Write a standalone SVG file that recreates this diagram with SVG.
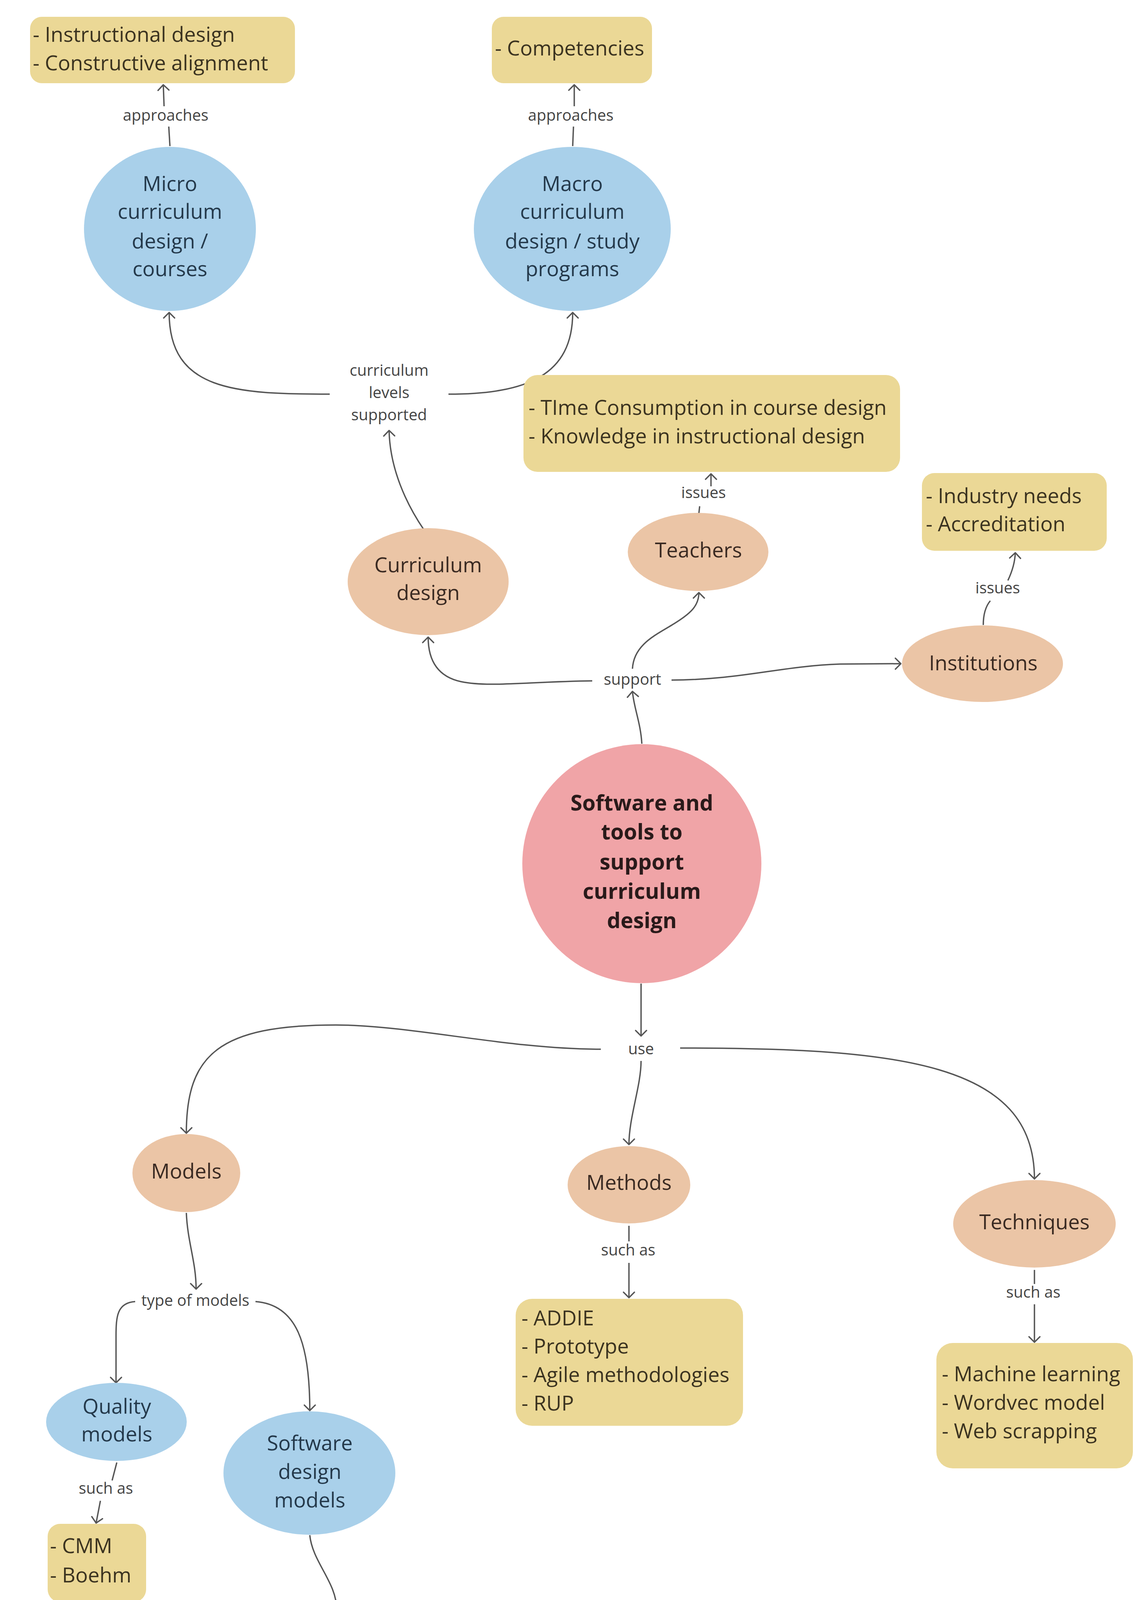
<svg xmlns="http://www.w3.org/2000/svg" width="2931" height="5242" viewBox="0 0 2931 5242">
<defs>
<marker id="arr" markerUnits="userSpaceOnUse" markerWidth="40" markerHeight="40" viewBox="-20 -20 40 40" refX="0" refY="0" orient="auto" overflow="visible">
<path d="M -14 -14 L 0 0 L -14 14" fill="none" stroke="#555" stroke-width="3.5" stroke-linecap="round" stroke-linejoin="round"/>
</marker>
<style>
.c{fill:none;stroke:#555;stroke-width:3.5;stroke-linecap="round"}
.ca{fill:none;stroke:#555;stroke-width:3.5;marker-end:url(#arr)}
.lbl{font-family:"Open Sans","Liberation Sans",sans-serif;font-size:40px;fill:#444;text-anchor:middle}
.box{fill:#EBD896}
.bt{font-family:"Open Sans","Liberation Sans",sans-serif;font-size:53px;fill:#3b3320}
.blue{fill:#A9D0EA}
.blt{font-family:"Open Sans","Liberation Sans",sans-serif;font-size:53px;fill:#24394b;text-anchor:middle}
.peach{fill:#EBC5A6}
.pt{font-family:"Open Sans","Liberation Sans",sans-serif;font-size:53px;fill:#3a2a22;text-anchor:middle}
.green{fill:#A2E095}
.gt{font-family:"Open Sans","Liberation Sans",sans-serif;font-size:53px;fill:#1f3b1f;text-anchor:middle}
.pink{fill:#F0A4A7}
.ct{font-family:"Open Sans","Liberation Sans",sans-serif;font-size:55px;font-weight:bold;fill:#2a1a1a;text-anchor:middle}
</style>
</defs>
<rect width="2931" height="5242" fill="#ffffff"/>

<g id="connectors">
<path class="c" d="M 435 374 L 432 324"/>
<path class="ca" d="M 420 272 L 418 217"/>
<text class="lbl" x="424" y="309">approaches</text>

<path class="c" d="M 1466 374 L 1468 324"/>
<path class="ca" d="M 1470 272 L 1470 217"/>
<text class="lbl" x="1461" y="309">approaches</text>

<path class="ca" d="M 1085 1356 C 1040 1290, 998 1200, 996 1102"/>
<text class="lbl" x="996" y="962">curriculum</text>
<text class="lbl" x="996" y="1019">levels</text>
<text class="lbl" x="996" y="1076">supported</text>
<path class="ca" d="M 844 1009 C 600 1009, 433 1000, 433 800"/>
<path class="ca" d="M 1148 1009 C 1350 1009, 1466 960, 1466 800"/>

<path class="ca" d="M 1643 1904 C 1640 1850, 1622 1810, 1619 1770"/>
<text class="lbl" x="1619" y="1753">support</text>
<path class="ca" d="M 1516 1743 C 1350 1745, 1250 1760, 1180 1745 C 1120 1732, 1096 1690, 1096 1631"/>
<path class="ca" d="M 1619 1712 C 1622 1650, 1680 1625, 1720 1600 C 1770 1570, 1789 1550, 1789 1517"/>
<path class="ca" d="M 1719 1741 C 1900 1740, 2000 1705, 2150 1700 L 2306 1699"/>

<path class="c" d="M 1789 1314 L 1791 1296"/>
<path class="ca" d="M 1820 1245 L 1820 1213"/>
<text class="lbl" x="1801" y="1275">issues</text>

<path class="c" d="M 2517 1600 C 2517 1570, 2525 1550, 2535 1538"/>
<path class="ca" d="M 2580 1486 C 2590 1465, 2598 1440, 2599 1415"/>
<text class="lbl" x="2554" y="1519">issues</text>

<path class="ca" d="M 1641 2518 L 1641 2652"/>
<text class="lbl" x="1641" y="2699">use</text>
<path class="ca" d="M 1538 2686 C 1300 2686, 1050 2624, 860 2624 C 560 2624, 477 2700, 477 2901"/>
<path class="ca" d="M 1641 2716 C 1641 2780, 1610 2860, 1610 2930"/>
<path class="ca" d="M 1741 2683 C 2300 2683, 2648 2720, 2648 3018"/>

<path class="c" d="M 1610 3138 L 1610 3178"/>
<path class="ca" d="M 1610 3233 L 1610 3322"/>
<text class="lbl" x="1608" y="3214">such as</text>

<path class="c" d="M 2648 3251 L 2648 3287"/>
<path class="ca" d="M 2648 3339 L 2648 3436"/>
<text class="lbl" x="2645" y="3322">such as</text>

<path class="ca" d="M 477 3105 C 480 3180, 502 3230, 502 3300"/>
<text class="lbl" x="500" y="3343">type of models</text>
<path class="ca" d="M 346 3332 C 300 3335, 297 3370, 297 3420 L 297 3540"/>
<path class="ca" d="M 654 3332 C 760 3340, 793 3440, 793 3611"/>

<path class="c" d="M 299 3744 L 287 3790"/>
<path class="ca" d="M 257 3842 L 246 3899"/>
<text class="lbl" x="271" y="3824">such as</text>

<path class="ca" d="M 793 3930 C 800 4000, 862 4050, 862 4122"/>
<text class="lbl" x="862" y="4164">type of models</text>
<path class="ca" d="M 708 4152 C 450 4155, 309 4270, 309 4378"/>
<path class="ca" d="M 862 4186 C 860 4300, 835 4380, 806 4462"/>
<path class="ca" d="M 1019 4152 C 1300 4155, 1488 4260, 1488 4435"/>

<path class="c" d="M 252 4580 L 241 4654"/>
<path class="ca" d="M 226 4708 L 222 4761"/>
<text class="lbl" x="229" y="4687">such as</text>

<path class="c" d="M 821 4625 L 825 4679"/>
<path class="ca" d="M 832 4733 L 840 4798"/>
<text class="lbl" x="827" y="4712">such as</text>

<path class="c" d="M 1488 4670 L 1488 4733"/>
<path class="ca" d="M 1488 4792 L 1488 4868"/>
<text class="lbl" x="1487" y="4771">such as</text>
</g>

<g id="box-instructional">
<rect class="box" x="77" y="43" width="678" height="170" rx="30"/>
<text class="bt" x="84" y="107">- Instructional design</text>
<text class="bt" x="84" y="180">- Constructive alignment</text>
</g>
<g id="box-competencies">
<rect class="box" x="1259" y="43" width="410" height="170" rx="30"/>
<text class="bt" x="1267" y="142">- Competencies</text>
</g>
<g id="micro">
<ellipse class="blue" cx="435" cy="586" rx="220" ry="210"/>
<text class="blt" x="435" y="489">Micro</text>
<text class="blt" x="435" y="560">curriculum</text>
<text class="blt" x="435" y="636">design /</text>
<text class="blt" x="435" y="707">courses</text>
</g>
<g id="macro">
<ellipse class="blue" cx="1465" cy="586" rx="252" ry="210"/>
<text class="blt" x="1465" y="489">Macro</text>
<text class="blt" x="1465" y="560">curriculum</text>
<text class="blt" x="1465" y="636">design / study</text>
<text class="blt" x="1465" y="707">programs</text>
</g>
<g id="box-teacher-issues">
<rect class="box" x="1340" y="960" width="964" height="248" rx="36"/>
<text class="bt" x="1353" y="1062">- TIme Consumption in course design</text>
<text class="bt" x="1353" y="1135">- Knowledge in instructional design</text>
</g>
<g id="box-institution-issues">
<rect class="box" x="2360" y="1211" width="473" height="199" rx="32"/>
<text class="bt" x="2370" y="1288">- Industry needs</text>
<text class="bt" x="2370" y="1360">- Accreditation</text>
</g>
<g id="curriculum-design">
<ellipse class="peach" cx="1096" cy="1489" rx="206" ry="137"/>
<text class="pt" x="1096" y="1465">Curriculum</text>
<text class="pt" x="1096" y="1536">design</text>
</g>
<g id="teachers">
<ellipse class="peach" cx="1787" cy="1413" rx="180" ry="100"/>
<text class="pt" x="1788" y="1427">Teachers</text>
</g>
<g id="institutions">
<ellipse class="peach" cx="2515" cy="1699" rx="206" ry="98"/>
<text class="pt" x="2517" y="1716">Institutions</text>
</g>
<g id="central">
<circle class="pink" cx="1643" cy="2211" r="306"/>
<text class="ct" x="1643" y="2075">Software and</text>
<text class="ct" x="1643" y="2149">tools to</text>
<text class="ct" x="1643" y="2226">support</text>
<text class="ct" x="1643" y="2301">curriculum</text>
<text class="ct" x="1643" y="2376">design</text>
</g>
<g id="models">
<ellipse class="peach" cx="477" cy="3003" rx="138" ry="100"/>
<text class="pt" x="477" y="3017">Models</text>
</g>
<g id="methods">
<ellipse class="peach" cx="1610" cy="3033" rx="157" ry="99"/>
<text class="pt" x="1610" y="3046">Methods</text>
</g>
<g id="techniques">
<ellipse class="peach" cx="2648" cy="3133" rx="208" ry="112"/>
<text class="pt" x="2648" y="3147">Techniques</text>
</g>
<g id="box-methods">
<rect class="box" x="1320" y="3325" width="582" height="325" rx="42"/>
<text class="bt" x="1335" y="3393">- ADDIE</text>
<text class="bt" x="1335" y="3465">- Prototype</text>
<text class="bt" x="1335" y="3538">- Agile methodologies</text>
<text class="bt" x="1335" y="3611">- RUP</text>
</g>
<g id="box-techniques">
<rect class="box" x="2397" y="3438" width="503" height="321" rx="42"/>
<text class="bt" x="2411" y="3536">- Machine learning</text>
<text class="bt" x="2411" y="3609">- Wordvec model</text>
<text class="bt" x="2411" y="3682">- Web scrapping</text>
</g>
<g id="quality-models">
<ellipse class="blue" cx="298" cy="3640" rx="180" ry="100"/>
<text class="blt" x="299" y="3619">Quality</text>
<text class="blt" x="299" y="3690">models</text>
</g>
<g id="software-design-models">
<ellipse class="blue" cx="792" cy="3771" rx="220" ry="158"/>
<text class="blt" x="793" y="3713">Software</text>
<text class="blt" x="793" y="3786">design</text>
<text class="blt" x="793" y="3859">models</text>
</g>
<g id="box-quality">
<rect class="box" x="122" y="3901" width="252" height="200" rx="32"/>
<text class="bt" x="128" y="3976">- CMM</text>
<text class="bt" x="128" y="4051">- Boehm</text>
</g>
<g id="software">
<ellipse class="green" cx="252" cy="4477" rx="208" ry="99"/>
<text class="gt" x="240" y="4489">Software</text>
</g>
<g id="philosophy">
<ellipse class="green" cx="819" cy="4533" rx="200" ry="88"/>
<text class="gt" x="820" y="4548">Philosophy</text>
</g>
<g id="education">
<ellipse class="green" cx="1488" cy="4557" rx="206" ry="110"/>
<text class="gt" x="1490" y="4573">Education</text>
</g>
<g id="box-software">
<rect class="box" x="93" y="4763" width="256" height="167" rx="32"/>
<text class="bt" x="100" y="4821">- UML</text>
<text class="bt" x="100" y="4896">- ERD</text>
</g>
<g id="box-philosophy">
<rect class="box" x="682" y="4800" width="317" height="169" rx="32"/>
<text class="bt" x="690" y="4897">- Ontologies</text>
</g>
<g id="box-education">
<rect class="box" x="1329" y="4871" width="318" height="322" rx="42"/>
<text class="bt" x="1346" y="4972">- IMS-LD</text>
<text class="bt" x="1346" y="5046">- IMS-QTI</text>
<text class="bt" x="1346" y="5120">- IMS-RDCO</text>
</g>
</svg>
